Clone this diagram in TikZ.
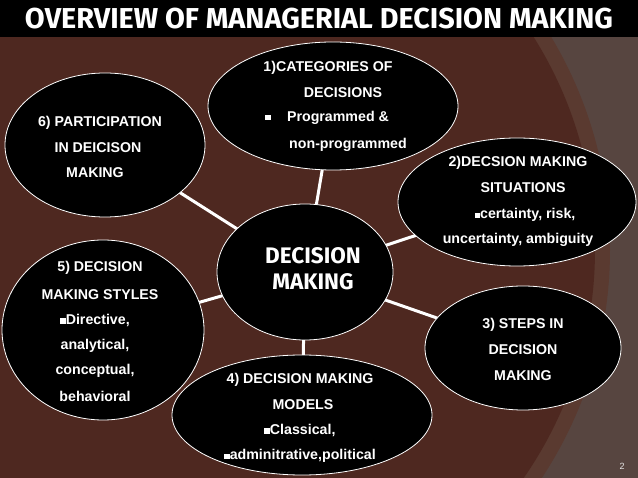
\documentclass[tikz,border=0pt]{standalone}
\usepackage{fontspec}
\setmainfont{Liberation Sans}
\newfontfamily\titlefont{Fira Sans}
\usetikzlibrary{shapes.geometric}
\definecolor{bgbrown}{HTML}{4E2820}
\definecolor{bgouter}{HTML}{574540}
\definecolor{ringc}{HTML}{5A3A30}
\tikzset{
  ell/.style={ellipse, draw=white, line width=0.8pt, fill=black, inner sep=0pt},
  lbl/.style={text=white, font=\bfseries\fontsize{14.2}{16}\selectfont, inner sep=0pt},
  conn/.style={white, line width=3pt},
}
\newcommand{\sqb}{\rule[0.5pt]{5.5pt}{5.5pt}}
\begin{document}
\begin{tikzpicture}[x=1pt,y=-1pt]
\useasboundingbox (0,0) rectangle (638,478);
\fill[bgouter] (0,0) rectangle (638,478);
\begin{scope}
\clip (0,0) rectangle (638,478);
\fill[ringc] (195,250) circle (415);
\fill[bgbrown] (195,250) circle (400);
\end{scope}
\fill[black] (0,0) rectangle (638,37);
\node[text=white, inner sep=0pt] (title) at (319,19) {\resizebox{588pt}{!}{\titlefont\bfseries OVERVIEW OF MANAGERIAL DECISION MAKING}};
\coordinate (c0) at (305,272);
\coordinate (c1) at (333,106);
\coordinate (c2) at (517,202);
\coordinate (c3) at (523,348);
\coordinate (c4) at (302,415);
\coordinate (c5) at (103,330);
\coordinate (c6) at (105,145);
\foreach \i in {1,...,6} \draw[conn] (c0) -- (c\i);
\node[ell, minimum width=176, minimum height=136] (e0) at (c0) {};
\node[ell, minimum width=250, minimum height=128] (e1) at (c1) {};
\node[ell, minimum width=238, minimum height=128] (e2) at (c2) {};
\node[ell, minimum width=196, minimum height=124] (e3) at (c3) {};
\node[ell, minimum width=260, minimum height=120] (e4) at (c4) {};
\node[ell, minimum width=202, minimum height=180] (e5) at (c5) {};
\node[ell, minimum width=200, minimum height=144] (e6) at (c6) {};
% center
\node[text=white, inner sep=0pt, font=\titlefont\bfseries\fontsize{22.5}{24}\selectfont] (t01) at (313,256) {DECISION};
\node[text=white, inner sep=0pt, font=\titlefont\bfseries\fontsize{22.5}{24}\selectfont] (t02) at (313,282) {MAKING};
% 1
\node[lbl] (t11) at (328,68) {1)CATEGORIES OF};
\node[lbl] (t12) at (343,93) {DECISIONS};
\node[lbl] (t13) at (268,118) {\sqb};
\node[lbl] (t14) at (338,118) {Programmed \&};
\node[lbl] (t15) at (348,145) {non-programmed};
% 6
\node[lbl] (t61) at (100,123) {6) PARTICIPATION};
\node[lbl] (t62) at (98,148) {IN DEICISON};
\node[lbl] (t63) at (95,173) {MAKING};
% 2
\node[lbl] (t21) at (518,163) {2)DECSION MAKING};
\node[lbl] (t22) at (523,188) {SITUATIONS};
\node[lbl] (t23) at (525,215) {\sqb certainty, risk,};
\node[lbl] (t24) at (518,240) {uncertainty, ambiguity};
% 5
\node[lbl] (t51) at (100,268) {5) DECISION};
\node[lbl] (t52) at (100,295) {MAKING STYLES};
\node[lbl] (t53) at (95,320) {\sqb Directive,};
\node[lbl] (t54) at (95,346) {analytical,};
\node[lbl] (t55) at (95,371) {conceptual,};
\node[lbl] (t56) at (95,396) {behavioral};
% 3
\node[lbl] (t31) at (523,325) {3) STEPS IN};
\node[lbl] (t32) at (523,350) {DECISION};
\node[lbl] (t33) at (523,376) {MAKING};
% 4
\node[lbl] (t41) at (300,380) {4) DECISION MAKING};
\node[lbl] (t42) at (303,405) {MODELS};
\node[lbl] (t43) at (300,430) {\sqb Classical,};
\node[lbl] (t44) at (300,456) {\sqb adminitrative,political};
\node[text=white!80!gray, inner sep=0pt, font=\fontsize{9}{10}\selectfont] (pg) at (622,466) {2};
\end{tikzpicture}
\end{document}
